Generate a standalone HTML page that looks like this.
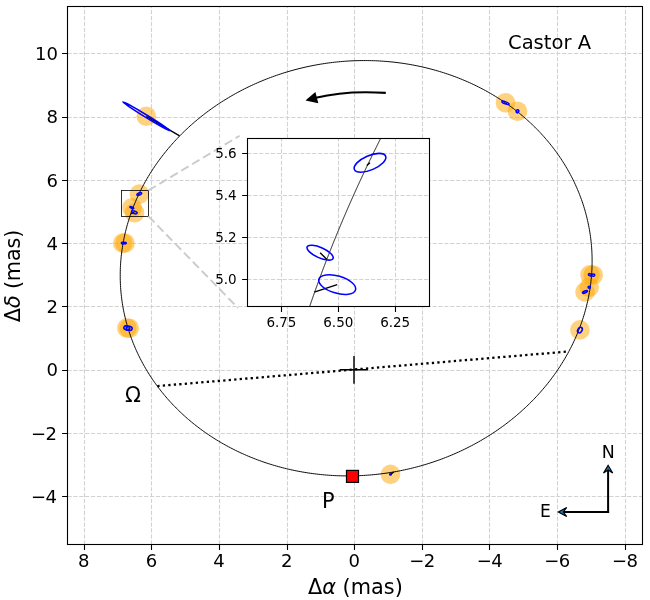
<!DOCTYPE html>
<html><head><meta charset="utf-8"><title>Castor A orbit</title>
<style>html,body{margin:0;padding:0;background:#fff;overflow:hidden}body{width:650px;height:600px;position:relative}</style></head>
<body>
<svg width="650" height="600" viewBox="0 0 650 600" style="display:block;position:absolute;left:0;top:0" font-family="'DejaVu Sans', 'Liberation Sans', sans-serif">
<rect x="0" y="0" width="650" height="600" fill="#fff"/>
<path d="M84.5,544.35V6.34M151.5,544.35V6.34M219.5,544.35V6.34M287.5,544.35V6.34M354.5,544.35V6.34M422.5,544.35V6.34M489.5,544.35V6.34M557.5,544.35V6.34M625.5,544.35V6.34M67.45,496.5H642.05M67.45,433.5H642.05M67.45,370.5H642.05M67.45,306.5H642.05M67.45,243.5H642.05M67.45,180.5H642.05M67.45,117.5H642.05M67.45,53.5H642.05" stroke="#d2d2d2" stroke-width="1.1" stroke-dasharray="4.2 1.69" fill="none"/>
<g fill="#ffa500" fill-opacity="0.5">
<circle cx="146.3" cy="116.3" r="9.82"/>
<circle cx="139.4" cy="194.1" r="9.82"/>
<circle cx="132.0" cy="207.8" r="9.82"/>
<circle cx="134.6" cy="212.8" r="9.82"/>
<circle cx="122.7" cy="243.1" r="9.82"/>
<circle cx="125.0" cy="243.1" r="9.82"/>
<circle cx="126.8" cy="328.0" r="9.82"/>
<circle cx="129.2" cy="328.3" r="9.82"/>
<circle cx="390.5" cy="474.4" r="9.82"/>
<circle cx="579.9" cy="329.9" r="9.82"/>
<circle cx="589.2" cy="287.3" r="9.82"/>
<circle cx="585.0" cy="291.9" r="9.82"/>
<circle cx="590.0" cy="274.75" r="9.82"/>
<circle cx="593.2" cy="275.0" r="9.82"/>
<circle cx="505.5" cy="102.8" r="9.82"/>
<circle cx="517.5" cy="111.3" r="9.82"/>
</g>
<path d="M328.34,62.99L326.30,63.28L324.26,63.58L322.22,63.90L320.18,64.23L318.15,64.57L316.12,64.94L314.09,65.32L312.07,65.71L310.05,66.12L308.03,66.54L306.01,66.98L304.00,67.44L302.00,67.91L300.00,68.39L298.00,68.90L296.00,69.41L294.02,69.94L292.03,70.49L290.05,71.05L288.08,71.63L286.11,72.22L284.15,72.82L282.19,73.45L280.24,74.08L278.29,74.73L276.35,75.40L274.41,76.08L272.49,76.77L270.56,77.48L268.65,78.21L266.74,78.95L264.84,79.70L262.94,80.47L261.06,81.25L259.17,82.04L257.30,82.85L255.44,83.68L253.58,84.51L251.73,85.37L249.88,86.23L248.05,87.11L246.22,88.01L244.41,88.91L242.60,89.84L240.80,90.77L239.01,91.72L237.22,92.68L235.45,93.65L233.68,94.64L231.93,95.64L230.18,96.66L228.45,97.69L226.72,98.73L225.00,99.78L223.30,100.85L221.60,101.93L219.91,103.02L218.24,104.12L216.57,105.24L214.92,106.37L213.27,107.51L211.64,108.66L210.02,109.83L208.41,111.01L206.81,112.20L205.22,113.40L203.64,114.61L202.08,115.84L200.53,117.08L198.98,118.33L197.45,119.59L195.94,120.86L194.43,122.14L192.94,123.43L191.46,124.74L189.99,126.05L188.53,127.38L187.09,128.72L185.66,130.07L184.24,131.42L182.84,132.79L181.45,134.17L180.07,135.56L178.71,136.96L177.36,138.37L176.02,139.79L174.70,141.22L173.39,142.66L172.10,144.10L170.81,145.56L169.55,147.03L168.29,148.51L167.06,149.99L165.83,151.49L164.62,152.99L163.43,154.50L162.25,156.02L161.08,157.55L159.93,159.09L158.79,160.63L157.67,162.19L156.57,163.75L155.48,165.32L154.40,166.90L153.34,168.48L152.30,170.08L151.27,171.68L150.26,173.29L149.26,174.90L148.28,176.53L147.31,178.15L146.36,179.79L145.43,181.43L144.51,183.08L143.61,184.74L142.72,186.40L141.85,188.07L141.00,189.75L140.16,191.43L139.34,193.11L138.54,194.81L137.75,196.51L136.98,198.21L136.23,199.92L135.49,201.63L134.77,203.35L134.06,205.07L133.38,206.80L132.71,208.54L132.06,210.28L131.42,212.02L130.80,213.76L130.20,215.52L129.62,217.27L129.05,219.03L128.50,220.79L127.97,222.56L127.45,224.33L126.95,226.10L126.47,227.88L126.01,229.66L125.57,231.44L125.14,233.22L124.73,235.01L124.34,236.80L123.96,238.59L123.61,240.39L123.27,242.19L122.95,243.99L122.64,245.79L122.36,247.59L122.09,249.39L121.84,251.20L121.61,253.01L121.39,254.81L121.20,256.62L121.02,258.43L120.86,260.24L120.71,262.05L120.59,263.87L120.48,265.68L120.39,267.49L120.32,269.30L120.27,271.11L120.23,272.93L120.22,274.74L120.22,276.55L120.23,278.36L120.27,280.17L120.33,281.98L120.40,283.79L120.49,285.59L120.60,287.40L120.72,289.20L120.87,291.00L121.03,292.80L121.21,294.60L121.41,296.40L121.63,298.19L121.86,299.99L122.11,301.78L122.38,303.56L122.67,305.35L122.97,307.13L123.30,308.91L123.64,310.68L123.99,312.46L124.37,314.23L124.76,315.99L125.18,317.75L125.60,319.51L126.05,321.27L126.51,323.02L127.00,324.76L127.49,326.50L128.01,328.24L128.54,329.97L129.10,331.70L129.66,333.43L130.25,335.14L130.85,336.86L131.47,338.56L132.11,340.27L132.76,341.96L133.43,343.66L134.12,345.34L134.83,347.02L135.55,348.69L136.29,350.36L137.04,352.02L137.81,353.68L138.60,355.33L139.41,356.97L140.23,358.60L141.07,360.23L141.92,361.85L142.79,363.47L143.68,365.07L144.58,366.67L145.50,368.27L146.44,369.85L147.39,371.43L148.36,373.00L149.34,374.56L150.34,376.11L151.35,377.65L152.38,379.19L153.43,380.72L154.49,382.24L155.57,383.75L156.66,385.25L157.77,386.74L158.89,388.23L160.03,389.70L161.18,391.17L162.34,392.62L163.53,394.07L164.72,395.51L165.93,396.93L167.16,398.35L168.40,399.76L169.65,401.16L170.92,402.54L172.20,403.92L173.50,405.29L174.81,406.64L176.13,407.99L177.47,409.32L178.82,410.65L180.19,411.96L181.57,413.26L182.96,414.56L184.36,415.84L185.78,417.11L187.21,418.36L188.65,419.61L190.11,420.85L191.58,422.07L193.06,423.28L194.56,424.48L196.06,425.67L197.58,426.84L199.11,428.01L200.65,429.16L202.21,430.30L203.77,431.43L205.35,432.54L206.94,433.64L208.54,434.73L210.15,435.81L211.78,436.87L213.41,437.92L215.06,438.96L216.71,439.99L218.38,441.00L220.05,442.00L221.74,442.99L223.44,443.96L225.15,444.92L226.86,445.86L228.59,446.79L230.33,447.71L232.07,448.62L233.83,449.51L235.60,450.39L237.37,451.25L239.15,452.10L240.95,452.94L242.75,453.76L244.56,454.56L246.38,455.36L248.20,456.14L250.04,456.90L251.88,457.65L253.73,458.39L255.59,459.11L257.46,459.82L259.33,460.51L261.21,461.18L263.10,461.85L265.00,462.50L266.90,463.13L268.81,463.75L270.72,464.35L272.65,464.94L274.58,465.51L276.51,466.07L278.45,466.62L280.40,467.14L282.35,467.66L284.31,468.16L286.27,468.64L288.24,469.11L290.22,469.56L292.20,470.00L294.18,470.42L296.17,470.82L298.16,471.21L300.16,471.59L302.16,471.95L304.17,472.29L306.18,472.62L308.20,472.94L310.21,473.23L312.23,473.52L314.26,473.78L316.29,474.03L318.32,474.27L320.35,474.49L322.39,474.69L324.43,474.88L326.47,475.05L328.51,475.21L330.56,475.35L332.61,475.47L334.66,475.58L336.71,475.68L338.76,475.75L340.81,475.82L342.87,475.86L344.93,475.89L346.98,475.91L349.04,475.91L351.10,475.89L353.16,475.85L355.22,475.81L357.28,475.74L359.33,475.66L361.39,475.56L363.45,475.45L365.51,475.32L367.57,475.18L369.62,475.02L371.68,474.85L373.73,474.66L375.78,474.45L377.83,474.23L379.88,473.99L381.93,473.73L383.98,473.47L386.02,473.18L388.06,472.88L390.10,472.56L392.14,472.23L394.17,471.89L396.20,471.52L398.23,471.14L400.25,470.75L402.27,470.34L404.29,469.92L406.31,469.48L408.32,469.02L410.32,468.55L412.32,468.07L414.32,467.56L416.32,467.05L418.30,466.52L420.29,465.97L422.27,465.41L424.24,464.83L426.21,464.24L428.17,463.64L430.13,463.01L432.08,462.38L434.03,461.73L435.97,461.06L437.91,460.38L439.83,459.69L441.76,458.98L443.67,458.25L445.58,457.51L447.48,456.76L449.38,455.99L451.26,455.21L453.15,454.42L455.02,453.61L456.88,452.78L458.74,451.95L460.59,451.09L462.44,450.23L464.27,449.35L466.10,448.45L467.91,447.55L469.72,446.62L471.52,445.69L473.31,444.74L475.10,443.78L476.87,442.81L478.64,441.82L480.39,440.82L482.14,439.80L483.87,438.77L485.60,437.73L487.32,436.68L489.02,435.61L490.72,434.53L492.41,433.44L494.08,432.34L495.75,431.22L497.40,430.09L499.05,428.95L500.68,427.80L502.30,426.63L503.91,425.45L505.51,424.26L507.10,423.06L508.68,421.85L510.24,420.62L511.79,419.38L513.34,418.13L514.87,416.87L516.38,415.60L517.89,414.32L519.38,413.03L520.86,411.72L522.33,410.41L523.79,409.08L525.23,407.74L526.66,406.39L528.08,405.04L529.48,403.67L530.87,402.29L532.25,400.90L533.61,399.50L534.96,398.09L536.30,396.67L537.62,395.24L538.93,393.80L540.22,392.36L541.51,390.90L542.77,389.43L544.03,387.95L545.26,386.47L546.49,384.97L547.70,383.47L548.89,381.96L550.07,380.44L551.24,378.91L552.39,377.37L553.53,375.83L554.65,374.27L555.75,372.71L556.84,371.14L557.92,369.56L558.98,367.98L560.02,366.38L561.05,364.78L562.06,363.17L563.06,361.56L564.04,359.93L565.01,358.31L565.96,356.67L566.89,355.03L567.81,353.38L568.71,351.72L569.60,350.06L570.47,348.39L571.32,346.71L572.16,345.03L572.98,343.35L573.78,341.65L574.57,339.95L575.34,338.25L576.09,336.54L576.83,334.83L577.55,333.11L578.26,331.39L578.94,329.66L579.61,327.92L580.26,326.18L580.90,324.44L581.52,322.70L582.12,320.94L582.70,319.19L583.27,317.43L583.82,315.67L584.35,313.90L584.87,312.13L585.37,310.36L585.85,308.58L586.31,306.80L586.75,305.02L587.18,303.24L587.59,301.45L587.98,299.66L588.36,297.87L588.71,296.07L589.05,294.27L589.37,292.47L589.68,290.67L589.96,288.87L590.23,287.07L590.48,285.26L590.71,283.45L590.93,281.65L591.12,279.84L591.30,278.03L591.46,276.22L591.61,274.41L591.73,272.59L591.84,270.78L591.93,268.97L592.00,267.16L592.05,265.35L592.09,263.53L592.10,261.72L592.10,259.91L592.09,258.10L592.05,256.29L591.99,254.48L591.92,252.67L591.83,250.87L591.72,249.06L591.60,247.26L591.45,245.46L591.29,243.66L591.11,241.86L590.91,240.06L590.69,238.27L590.46,236.47L590.21,234.68L589.94,232.90L589.65,231.11L589.35,229.33L589.02,227.55L588.68,225.78L588.33,224.00L587.95,222.23L587.56,220.47L587.14,218.71L586.72,216.95L586.27,215.19L585.81,213.44L585.32,211.70L584.83,209.96L584.31,208.22L583.78,206.49L583.22,204.76L582.66,203.03L582.07,201.32L581.47,199.60L580.85,197.90L580.21,196.19L579.56,194.50L578.89,192.80L578.20,191.12L577.49,189.44L576.77,187.77L576.03,186.10L575.28,184.44L574.51,182.78L573.72,181.13L572.91,179.49L572.09,177.86L571.25,176.23L570.40,174.61L569.53,172.99L568.64,171.39L567.74,169.79L566.82,168.19L565.88,166.61L564.93,165.03L563.96,163.46L562.98,161.90L561.98,160.35L560.97,158.81L559.94,157.27L558.89,155.74L557.83,154.22L556.75,152.71L555.66,151.21L554.55,149.72L553.43,148.23L552.29,146.76L551.14,145.29L549.98,143.84L548.79,142.39L547.60,140.95L546.39,139.53L545.16,138.11L543.92,136.70L542.67,135.30L541.40,133.92L540.12,132.54L538.82,131.17L537.51,129.82L536.19,128.47L534.85,127.14L533.50,125.81L532.13,124.50L530.75,123.20L529.36,121.90L527.96,120.62L526.54,119.35L525.11,118.10L523.67,116.85L522.21,115.61L520.74,114.39L519.26,113.18L517.76,111.98L516.26,110.79L514.74,109.62L513.21,108.45L511.67,107.30L510.11,106.16L508.55,105.03L506.97,103.92L505.38,102.82L503.78,101.73L502.17,100.65L500.54,99.59L498.91,98.54L497.26,97.50L495.61,96.47L493.94,95.46L492.27,94.46L490.58,93.47L488.88,92.50L487.17,91.54L485.46,90.60L483.73,89.67L481.99,88.75L480.25,87.84L478.49,86.95L476.72,86.07L474.95,85.21L473.17,84.36L471.37,83.52L469.57,82.70L467.76,81.90L465.94,81.10L464.12,80.32L462.28,79.56L460.44,78.81L458.59,78.07L456.73,77.35L454.86,76.64L452.99,75.95L451.11,75.28L449.22,74.61L447.32,73.96L445.42,73.33L443.51,72.71L441.60,72.11L439.67,71.52L437.74,70.95L435.81,70.39L433.87,69.84L431.92,69.32L429.97,68.80L428.01,68.30L426.05,67.82L424.08,67.35L422.10,66.90L420.12,66.46L418.14,66.04L416.15,65.64L414.16,65.25L412.16,64.87L410.16,64.51L408.15,64.17L406.14,63.84L404.12,63.52L402.11,63.23L400.09,62.94L398.06,62.68L396.03,62.43L394.00,62.19L391.97,61.97L389.93,61.77L387.89,61.58L385.85,61.41L383.81,61.25L381.76,61.11L379.71,60.99L377.66,60.88L375.61,60.78L373.56,60.71L371.51,60.64L369.45,60.60L367.39,60.57L365.34,60.55L363.28,60.55L361.22,60.57L359.16,60.61L357.10,60.65L355.04,60.72L352.99,60.80L350.93,60.90L348.87,61.01L346.81,61.14L344.75,61.28L342.70,61.44L340.64,61.61L338.59,61.80L336.54,62.01L334.49,62.23L332.44,62.47L330.39,62.73L328.34,62.99Z" stroke="#000" stroke-width="0.95" fill="none"/>
<path d="M157.3,386.1L567.0,351.6" stroke="#000" stroke-width="2.3" stroke-dasharray="2.3 3.21" fill="none"/>
<path d="M340.0,369.8h28.0M354.0,355.90000000000003v27.8" stroke="#000" stroke-width="1.45" fill="none"/>
<g stroke="#000" stroke-width="1.39" fill="none">
<path d="M146.40,116.30L179.60,135.90"/>
<path d="M390.50,474.40L393.80,472.00"/>
<path d="M139.26,194.02L138.78,194.43"/>
<path d="M131.85,207.57L132.83,208.55"/>
<path d="M134.39,212.37L130.98,213.52"/>
</g>
<g stroke="#0000ff" stroke-width="1.55" fill="none">
<ellipse cx="0" cy="0" rx="27.60" ry="1.20" transform="translate(146.40,116.30) rotate(31.55)"/>
<ellipse cx="0" cy="0" rx="2.53" ry="1.07" transform="translate(139.26,194.02) rotate(-23.3)"/>
<ellipse cx="0" cy="0" rx="2.11" ry="0.76" transform="translate(131.85,207.57) rotate(24)"/>
<ellipse cx="0" cy="0" rx="2.84" ry="1.28" transform="translate(134.39,212.37) rotate(16)"/>
<ellipse cx="0" cy="0" rx="1.30" ry="0.80" transform="translate(122.70,243.10) rotate(0)"/>
<ellipse cx="0" cy="0" rx="1.30" ry="0.80" transform="translate(125.00,243.10) rotate(0)"/>
<ellipse cx="0" cy="0" rx="3.00" ry="2.00" transform="translate(126.80,328.00) rotate(15)"/>
<ellipse cx="0" cy="0" rx="3.00" ry="2.00" transform="translate(129.20,328.30) rotate(10)"/>
<ellipse cx="0" cy="0" rx="0.80" ry="0.60" transform="translate(390.50,474.40) rotate(0)"/>
<ellipse cx="0" cy="0" rx="3.00" ry="2.10" transform="translate(579.90,330.10) rotate(-60)"/>
<ellipse cx="0" cy="0" rx="1.10" ry="1.00" transform="translate(589.20,287.30) rotate(0)"/>
<ellipse cx="0" cy="0" rx="2.70" ry="0.95" transform="translate(585.00,291.90) rotate(-25)"/>
<ellipse cx="0" cy="0" rx="1.60" ry="1.10" transform="translate(590.00,274.75) rotate(10)"/>
<ellipse cx="0" cy="0" rx="1.60" ry="1.10" transform="translate(593.20,275.10) rotate(5)"/>
<ellipse cx="0" cy="0" rx="3.80" ry="1.00" transform="translate(505.50,102.80) rotate(20)"/>
<ellipse cx="0" cy="0" rx="1.60" ry="1.30" transform="translate(517.50,111.30) rotate(-60)"/>
</g>
<rect x="346.5" y="470.4" width="12.0" height="12.0" fill="#ff0000" stroke="#000" stroke-width="1.2"/>
<rect x="121.5" y="190.5" width="27" height="26" fill="none" stroke="#000" stroke-width="0.8"/>
<path d="M148.5,190.4L239.7,135.7M148.5,216.3L238.0,308.0" stroke="#cbcbcb" stroke-width="1.9" stroke-dasharray="8.6 4.1" fill="none"/>
<rect x="67.5" y="6.5" width="575.0" height="538.0" fill="none" stroke="#000" stroke-width="1.1"/>
<path d="M84.5,544.5v5.4M151.5,544.5v5.4M219.5,544.5v5.4M287.5,544.5v5.4M354.5,544.5v5.4M422.5,544.5v5.4M489.5,544.5v5.4M557.5,544.5v5.4M625.5,544.5v5.4M67.5,496.5h-5.4M67.5,433.5h-5.4M67.5,370.5h-5.4M67.5,306.5h-5.4M67.5,243.5h-5.4M67.5,180.5h-5.4M67.5,117.5h-5.4M67.5,53.5h-5.4" stroke="#000" stroke-width="1.1" fill="none"/>
<g font-size="18.06" fill="#000">
<text x="83.85" y="566.7" text-anchor="middle">8</text>
<text x="151.45" y="566.7" text-anchor="middle">6</text>
<text x="219.05" y="566.7" text-anchor="middle">4</text>
<text x="286.65" y="566.7" text-anchor="middle">2</text>
<text x="354.25" y="566.7" text-anchor="middle">0</text>
<text x="421.85" y="566.7" text-anchor="middle" letter-spacing="-0.6">−2</text>
<text x="489.45" y="566.7" text-anchor="middle" letter-spacing="-0.6">−4</text>
<text x="557.05" y="566.7" text-anchor="middle" letter-spacing="-0.6">−6</text>
<text x="624.65" y="566.7" text-anchor="middle" letter-spacing="-0.6">−8</text>
<text x="56.6" y="502.97" text-anchor="end" letter-spacing="-0.5">−4</text>
<text x="56.6" y="439.68" text-anchor="end" letter-spacing="-0.5">−2</text>
<text x="57.9" y="376.38" text-anchor="end">0</text>
<text x="57.9" y="313.09" text-anchor="end">2</text>
<text x="57.9" y="249.79" text-anchor="end">4</text>
<text x="57.9" y="186.50" text-anchor="end">6</text>
<text x="57.9" y="123.20" text-anchor="end">8</text>
<text x="57.9" y="59.91" text-anchor="end">10</text>
</g>
<text x="355.4" y="594.4" font-size="20.83" text-anchor="middle">Δ<tspan font-style="italic">α</tspan> (mas)</text>
<text transform="translate(19.6,276.0) rotate(-90)" font-size="20.83" text-anchor="middle" letter-spacing="-0.18">Δ<tspan font-style="italic">δ</tspan> (mas)</text>
<text x="508.0" y="49.2" font-size="19.55">Castor A</text>
<text x="124.95" y="402.0" font-size="20.83">Ω</text>
<text x="321.95" y="507.9" font-size="20.83">P</text>
<text x="601.76" y="457.7" font-size="17.4">N</text>
<text x="539.9" y="516.7" font-size="17.1">E</text>
<path d="M385.8,92.9Q345.8,90.2 315.84,97.85" stroke="#000" stroke-width="2.08" fill="none" stroke-linecap="butt"/>
<path d="M307.80,99.90L314.81,93.81L316.87,101.89Z" fill="#000" stroke="#000" stroke-width="2.08" stroke-linejoin="miter"/>
<path d="M608.10,513.00L608.10,469.98" stroke="#000" stroke-width="2.0" fill="none"/>
<path d="M608.10,469.98L612.70,473.10L608.10,465.30L603.50,473.10Z" fill="#1f77b4" stroke="#000" stroke-width="1.15" stroke-linejoin="miter" stroke-miterlimit="3"/>
<path d="M609.10,512.00L563.34,512.00" stroke="#000" stroke-width="2.0" fill="none"/>
<path d="M563.34,512.00L566.70,507.50L558.30,512.00L566.70,516.50Z" fill="#1f77b4" stroke="#000" stroke-width="1.15" stroke-linejoin="miter" stroke-miterlimit="3"/>
<rect x="247.3" y="138.4" width="182.00" height="168.00" fill="#fff"/>
<path d="M281.5,306.4V138.4M338.5,306.4V138.4M395.5,306.4V138.4M247.3,279.5H429.3M247.3,237.5H429.3M247.3,195.5H429.3M247.3,153.5H429.3" stroke="#d2d2d2" stroke-width="1.1" stroke-dasharray="4.2 1.69" fill="none"/>
<clipPath id="ic"><rect x="247.3" y="138.4" width="182.00" height="168.00"/></clipPath>
<g clip-path="url(#ic)">
<path d="M400.57,100.66L400.35,101.05L400.14,101.45L399.92,101.84L399.70,102.24L399.49,102.64L399.27,103.03L399.05,103.43L398.84,103.83L398.62,104.22L398.41,104.62L398.19,105.02L397.98,105.42L397.76,105.81L397.55,106.21L397.33,106.61L397.12,107.00L396.90,107.40L396.69,107.80L396.48,108.20L396.26,108.59L396.05,108.99L395.83,109.39L395.62,109.79L395.41,110.18L395.19,110.58L394.98,110.98L394.77,111.38L394.55,111.77L394.34,112.17L394.13,112.57L393.92,112.97L393.70,113.37L393.49,113.76L393.28,114.16L393.07,114.56L392.86,114.96L392.64,115.36L392.43,115.76L392.22,116.15L392.01,116.55L391.80,116.95L391.59,117.35L391.38,117.75L391.17,118.15L390.96,118.55L390.75,118.94L390.54,119.34L390.33,119.74L390.12,120.14L389.91,120.54L389.70,120.94L389.49,121.34L389.28,121.74L389.07,122.14L388.86,122.54L388.65,122.93L388.44,123.33L388.23,123.73L388.02,124.13L387.82,124.53L387.61,124.93L387.40,125.33L387.19,125.73L386.98,126.13L386.78,126.53L386.57,126.93L386.36,127.33L386.15,127.73L385.95,128.13L385.74,128.53L385.53,128.93L385.33,129.33L385.12,129.73L384.91,130.13L384.71,130.53L384.50,130.93L384.30,131.33L384.09,131.73L383.88,132.13L383.68,132.53L383.47,132.93L383.27,133.34L383.06,133.74L382.86,134.14L382.65,134.54L382.45,134.94L382.24,135.34L382.04,135.74L381.84,136.14L381.63,136.54L381.43,136.94L381.22,137.34L381.02,137.75L380.82,138.15L380.61,138.55L380.41,138.95L380.21,139.35L380.00,139.75L379.80,140.15L379.60,140.56L379.40,140.96L379.19,141.36L378.99,141.76L378.79,142.16L378.59,142.56L378.39,142.97L378.18,143.37L377.98,143.77L377.78,144.17L377.58,144.57L377.38,144.98L377.18,145.38L376.98,145.78L376.78,146.18L376.58,146.59L376.38,146.99L376.18,147.39L375.98,147.79L375.78,148.20L375.58,148.60L375.38,149.00L375.18,149.40L374.98,149.81L374.78,150.21L374.58,150.61L374.38,151.01L374.18,151.42L373.98,151.82L373.78,152.22L373.59,152.63L373.39,153.03L373.19,153.43L372.99,153.84L372.79,154.24L372.60,154.64L372.40,155.05L372.20,155.45L372.00,155.85L371.81,156.26L371.61,156.66L371.41,157.06L371.22,157.47L371.02,157.87L370.82,158.28L370.63,158.68L370.43,159.08L370.24,159.49L370.04,159.89L369.84,160.30L369.65,160.70L369.45,161.10L369.26,161.51L369.06,161.91L368.87,162.32L368.67,162.72L368.48,163.12L368.29,163.53L368.09,163.93L367.90,164.34L367.70,164.74L367.51,165.15L367.32,165.55L367.12,165.96L366.93,166.36L366.73,166.77L366.54,167.17L366.35,167.58L366.16,167.98L365.96,168.39L365.77,168.79L365.58,169.20L365.39,169.60L365.19,170.01L365.00,170.41L364.81,170.82L364.62,171.22L364.43,171.63L364.24,172.03L364.04,172.44L363.85,172.84L363.66,173.25L363.47,173.66L363.28,174.06L363.09,174.47L362.90,174.87L362.71,175.28L362.52,175.68L362.33,176.09L362.14,176.50L361.95,176.90L361.76,177.31L361.57,177.71L361.38,178.12L361.19,178.53L361.00,178.93L360.81,179.34L360.63,179.75L360.44,180.15L360.25,180.56L360.06,180.96L359.87,181.37L359.68,181.78L359.50,182.18L359.31,182.59L359.12,183.00L358.93,183.40L358.75,183.81L358.56,184.22L358.37,184.62L358.19,185.03L358.00,185.44L357.81,185.85L357.63,186.25L357.44,186.66L357.26,187.07L357.07,187.47L356.88,187.88L356.70,188.29L356.51,188.70L356.33,189.10L356.14,189.51L355.96,189.92L355.77,190.33L355.59,190.73L355.40,191.14L355.22,191.55L355.03,191.96L354.85,192.36L354.67,192.77L354.48,193.18L354.30,193.59L354.11,194.00L353.93,194.40L353.75,194.81L353.56,195.22L353.38,195.63L353.20,196.04L353.02,196.44L352.83,196.85L352.65,197.26L352.47,197.67L352.29,198.08L352.10,198.49L351.92,198.89L351.74,199.30L351.56,199.71L351.38,200.12L351.20,200.53L351.02,200.94L350.84,201.35L350.65,201.76L350.47,202.16L350.29,202.57L350.11,202.98L349.93,203.39L349.75,203.80L349.57,204.21L349.39,204.62L349.21,205.03L349.03,205.44L348.85,205.85L348.68,206.26L348.50,206.66L348.32,207.07L348.14,207.48L347.96,207.89L347.78,208.30L347.60,208.71L347.43,209.12L347.25,209.53L347.07,209.94L346.89,210.35L346.71,210.76L346.54,211.17L346.36,211.58L346.18,211.99L346.01,212.40L345.83,212.81L345.65,213.22L345.48,213.63L345.30,214.04L345.12,214.45L344.95,214.86L344.77,215.27L344.59,215.68L344.42,216.09L344.24,216.50L344.07,216.91L343.89,217.32L343.72,217.73L343.54,218.14L343.37,218.55L343.19,218.97L343.02,219.38L342.84,219.79L342.67,220.20L342.50,220.61L342.32,221.02L342.15,221.43L341.97,221.84L341.80,222.25L341.63,222.66L341.45,223.07L341.28,223.49L341.11,223.90L340.94,224.31L340.76,224.72L340.59,225.13L340.42,225.54L340.25,225.95L340.07,226.36L339.90,226.78L339.73,227.19L339.56,227.60L339.39,228.01L339.22,228.42L339.05,228.83L338.87,229.25L338.70,229.66L338.53,230.07L338.36,230.48L338.19,230.89L338.02,231.30L337.85,231.72L337.68,232.13L337.51,232.54L337.34,232.95L337.17,233.36L337.00,233.78L336.83,234.19L336.67,234.60L336.50,235.01L336.33,235.43L336.16,235.84L335.99,236.25L335.82,236.66L335.65,237.08L335.49,237.49L335.32,237.90L335.15,238.31L334.98,238.73L334.82,239.14L334.65,239.55L334.48,239.96L334.31,240.38L334.15,240.79L333.98,241.20L333.81,241.62L333.65,242.03L333.48,242.44L333.32,242.86L333.15,243.27L332.98,243.68L332.82,244.09L332.65,244.51L332.49,244.92L332.32,245.33L332.16,245.75L331.99,246.16L331.83,246.57L331.66,246.99L331.50,247.40L331.33,247.82L331.17,248.23L331.01,248.64L330.84,249.06L330.68,249.47L330.51,249.88L330.35,250.30L330.19,250.71L330.02,251.13L329.86,251.54L329.70,251.95L329.54,252.37L329.37,252.78L329.21,253.20L329.05,253.61L328.89,254.02L328.72,254.44L328.56,254.85L328.40,255.27L328.24,255.68L328.08,256.10L327.92,256.51L327.76,256.92L327.60,257.34L327.43,257.75L327.27,258.17L327.11,258.58L326.95,259.00L326.79,259.41L326.63,259.83L326.47,260.24L326.31,260.66L326.15,261.07L325.99,261.49L325.84,261.90L325.68,262.32L325.52,262.73L325.36,263.15L325.20,263.56L325.04,263.98L324.88,264.39L324.72,264.81L324.57,265.22L324.41,265.64L324.25,266.05L324.09,266.47L323.94,266.88L323.78,267.30L323.62,267.71L323.46,268.13L323.31,268.54L323.15,268.96L322.99,269.38L322.84,269.79L322.68,270.21L322.52,270.62L322.37,271.04L322.21,271.45L322.06,271.87L321.90,272.29L321.75,272.70L321.59,273.12L321.44,273.53L321.28,273.95L321.13,274.37L320.97,274.78L320.82,275.20L320.66,275.61L320.51,276.03L320.35,276.45L320.20,276.86L320.05,277.28L319.89,277.70L319.74,278.11L319.59,278.53L319.43,278.94L319.28,279.36L319.13,279.78L318.97,280.19L318.82,280.61L318.67,281.03L318.52,281.44L318.36,281.86L318.21,282.28L318.06,282.69L317.91,283.11L317.76,283.53L317.61,283.95L317.45,284.36L317.30,284.78L317.15,285.20L317.00,285.61L316.85,286.03L316.70,286.45L316.55,286.86L316.40,287.28L316.25,287.70L316.10,288.12L315.95,288.53L315.80,288.95L315.65,289.37L315.50,289.79L315.35,290.20L315.20,290.62L315.06,291.04L314.91,291.46L314.76,291.87L314.61,292.29L314.46,292.71L314.31,293.13L314.17,293.54L314.02,293.96L313.87,294.38L313.72,294.80L313.57,295.22L313.43,295.63L313.28,296.05L313.13,296.47L312.99,296.89L312.84,297.31L312.69,297.72L312.55,298.14L312.40,298.56L312.26,298.98L312.11,299.40L311.96,299.81L311.82,300.23L311.67,300.65L311.53,301.07L311.38,301.49L311.24,301.91L311.09,302.32L310.95,302.74L310.80,303.16L310.66,303.58L310.52,304.00L310.37,304.42L310.23,304.84L310.08,305.26L309.94,305.67L309.80,306.09L309.65,306.51L309.51,306.93L309.37,307.35L309.22,307.77L309.08,308.19L308.94,308.61L308.80,309.03L308.65,309.44L308.51,309.86L308.37,310.28L308.23,310.70L308.09,311.12L307.95,311.54L307.80,311.96L307.66,312.38L307.52,312.80L307.38,313.22L307.24,313.64L307.10,314.06L306.96,314.48L306.82,314.90L306.68,315.31L306.54,315.73L306.40,316.15L306.26,316.57L306.12,316.99L305.98,317.41L305.84,317.83L305.70,318.25L305.56,318.67L305.42,319.09L305.29,319.51L305.15,319.93L305.01,320.35L304.87,320.77L304.73,321.19L304.59,321.61L304.46,322.03L304.32,322.45L304.18,322.87L304.04,323.29L303.91,323.71L303.77,324.13L303.63,324.55L303.50,324.97L303.36,325.39L303.22,325.81L303.09,326.23L302.95,326.66L302.82,327.08L302.68,327.50L302.54,327.92L302.41,328.34L302.27,328.76L302.14,329.18L302.00,329.60L301.87,330.02L301.73,330.44L301.60,330.86L301.46,331.28L301.33,331.70L301.20,332.12L301.06,332.54L300.93,332.97L300.79,333.39L300.66,333.81L300.53,334.23L300.39,334.65L300.26,335.07L300.13,335.49L300.00,335.91L299.86,336.33L299.73,336.76L299.60,337.18L299.47,337.60L299.33,338.02L299.20,338.44L299.07,338.86L298.94,339.28L298.81,339.70L298.68,340.13L298.55,340.55L298.41,340.97L298.28,341.39L298.15,341.81" stroke="#000" stroke-width="0.95" fill="none"/>
<g stroke="#000" stroke-width="1.39" fill="none">
<path d="M370.0,162.8L366.8,165.5"/>
<path d="M320.1,252.7L326.7,259.2"/>
<path d="M337.2,284.6L314.25,292.2"/>
</g><g stroke="#0000ff" stroke-width="1.55" fill="none">
<ellipse cx="0" cy="0" rx="17.0" ry="7.2" transform="translate(370.0,162.8) rotate(-23.3)"/>
<ellipse cx="0" cy="0" rx="14.2" ry="5.1" transform="translate(320.1,252.7) rotate(24)"/>
<ellipse cx="0" cy="0" rx="19.1" ry="8.6" transform="translate(337.2,284.6) rotate(16)"/>
</g></g>
<rect x="247.5" y="138.5" width="182.0" height="168.0" fill="none" stroke="#000" stroke-width="1.1"/>
<path d="M281.5,306.5v5.4M338.5,306.5v5.4M395.5,306.5v5.4M247.5,279.5h-5.4M247.5,237.5h-5.4M247.5,195.5h-5.4M247.5,153.5h-5.4" stroke="#000" stroke-width="1.1" fill="none"/>
<g font-size="13.5" fill="#000">
<text x="281.43" y="326.8" text-anchor="middle">6.75</text>
<text x="338.30" y="326.8" text-anchor="middle">6.50</text>
<text x="395.17" y="326.8" text-anchor="middle">6.25</text>
<text x="236.7" y="284.10" text-anchor="end">5.0</text>
<text x="236.7" y="242.10" text-anchor="end">5.2</text>
<text x="236.7" y="200.10" text-anchor="end">5.4</text>
<text x="236.7" y="158.10" text-anchor="end">5.6</text>
</g>
</svg>
</body></html>
